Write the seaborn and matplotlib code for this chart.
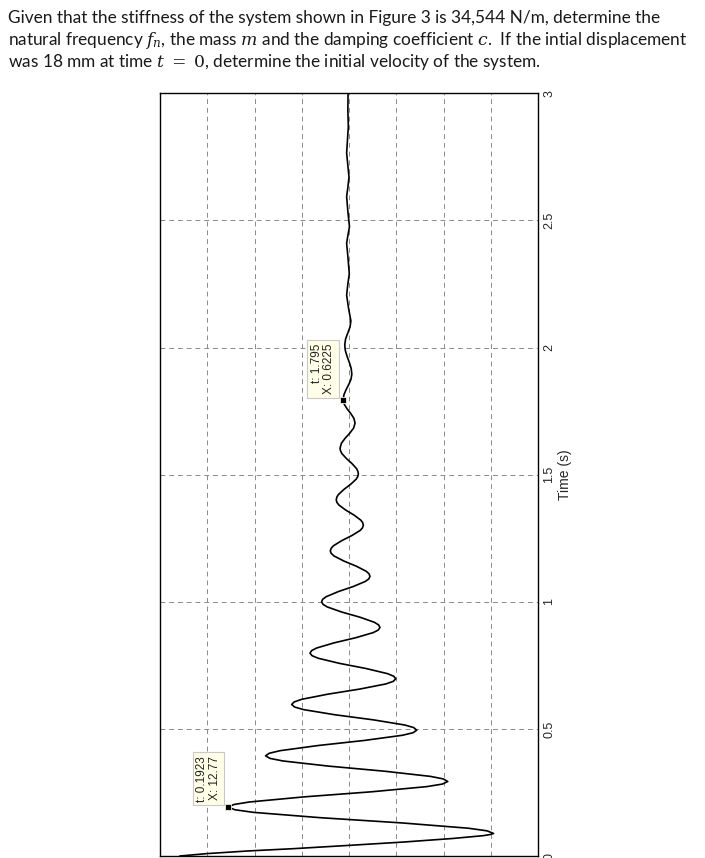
import matplotlib
matplotlib.use("Agg")
import matplotlib.pyplot as plt
import seaborn as sns
import pandas as pd

# ---- data (one row per half-cycle) ----
time_s = [0.000, 0.0095, 0.020, 0.029, 0.042, 0.055, 0.069, 0.080, 0.0845, 0.0886,
          0.0990, 0.1093, 0.1301, 0.1508, 0.1716, 0.1819, 0.1923,
          0.2024, 0.2124, 0.2326, 0.2527, 0.2729, 0.2829, 0.2930,
          0.3031, 0.3132, 0.3334, 0.3536, 0.3738, 0.3839, 0.3940,
          0.4041, 0.4142, 0.4344, 0.4546, 0.4748, 0.4849, 0.4950,
          0.5051, 0.5152, 0.5354, 0.5556, 0.5758, 0.5859, 0.5960,
          0.6061, 0.6162, 0.6364, 0.6566, 0.6768, 0.6869, 0.6970,
          0.7071, 0.7172, 0.7374, 0.7576, 0.7778, 0.7879, 0.7980,
          0.8081, 0.8182, 0.8384, 0.8586, 0.8788, 0.8889, 0.8990,
          0.9091, 0.9192, 0.9394, 0.9596, 0.9798, 0.9899, 1.0000,
          1.0100, 1.0200, 1.0400, 1.0600, 1.0800, 1.0900, 1.1000,
          1.1100, 1.1200, 1.1400, 1.1600, 1.1800, 1.1900, 1.2000,
          1.2101, 1.2202, 1.2404, 1.2606, 1.2808, 1.2909, 1.3010,
          1.3110, 1.3210, 1.3410, 1.3610, 1.3810, 1.3910, 1.4010,
          1.4112, 1.4214, 1.4418, 1.4622, 1.4826, 1.4928, 1.5030,
          1.5131, 1.5232, 1.5434, 1.5636, 1.5838, 1.5939, 1.6040,
          1.6238, 1.6436, 1.6634, 1.6832, 1.7030,
          1.7214, 1.7398, 1.7582, 1.7766, 1.7950,
          1.8150, 1.8350, 1.8550, 1.8750, 1.8950,
          1.9180, 1.9410, 1.9640, 1.9870, 2.0100,
          2.0340, 2.0580, 2.0810, 2.1050,
          2.1550, 2.2060, 2.2500, 2.2900, 2.3500, 2.4100, 2.4450, 2.4750,
          2.5350, 2.5940, 2.6300, 2.6700, 2.7200, 2.7650, 2.8200, 2.8700,
          2.9300, 3.0000]

displacement_mm = [17.9, 15.0, 10.6, 5.8, -0.1, -5.8, -11.0, -14.2, -14.95, -15.3,
                   -14.61, -12.62, -5.60, 3.07, 10.09, 12.08, 12.77,
                   12.20, 10.55, 4.75, -2.43, -8.23, -9.88, -10.45,
                   -9.98, -8.61, -3.79, 2.17, 6.99, 8.36, 8.83,
                   8.44, 7.30, 3.30, -1.64, -5.64, -6.78, -7.17,
                   -6.85, -5.91, -2.60, 1.50, 4.81, 5.75, 6.07,
                   5.80, 5.02, 2.26, -1.14, -3.90, -4.68, -4.95,
                   -4.73, -4.08, -1.81, 0.99, 3.26, 3.91, 4.13,
                   3.95, 3.42, 1.57, -0.72, -2.57, -3.10, -3.28,
                   -3.13, -2.69, -1.15, 0.77, 2.31, 2.75, 2.90,
                   2.78, 2.41, 1.13, -0.45, -1.73, -2.10, -2.22,
                   -2.12, -1.82, -0.77, 0.53, 1.58, 1.88, 1.98,
                   1.89, 1.65, 0.77, -0.31, -1.19, -1.43, -1.52,
                   -1.45, -1.25, -0.53, 0.36, 1.08, 1.28, 1.35,
                   1.29, 1.13, 0.54, -0.18, -0.77, -0.93, -0.99,
                   -0.94, -0.81, -0.32, 0.28, 0.77, 0.90, 0.95,
                   0.80, 0.40, -0.09, -0.49, -0.64,
                   -0.52, -0.20, 0.19, 0.50, 0.6225,
                   0.53, 0.30, 0.02, -0.21, -0.30,
                   -0.23, -0.04, 0.19, 0.38, 0.45,
                   0.36, 0.125, -0.11, -0.20,
                   0.05, 0.25, 0.12, -0.03, 0.10, 0.25, 0.10, -0.05,
                   0.12, 0.25, 0.12, 0.00, 0.13, 0.25, 0.15, 0.07,
                   0.12, 0.10]

tip_t = [0.1923, 1.795]
tip_x = [12.77, 0.6225]
tip_labels = ["t: 0.1923\nX: 12.77", "t: 1.795\nX: 0.6225"]

time_ticks = [0, 0.5, 1, 1.5, 2, 2.5, 3]
time_tick_labels = ["0", "0.5", "1", "1.5", "2", "2.5", "3"]
disp_grid = [-15, -10, -5, 0, 5, 10, 15]

question_lines = [
    "Given that the stiffness of the system shown in Figure 3 is 34,544 N/m, determine the",
    "natural frequency $f_n$, the mass $m$ and the damping coefficient $c$.  If the intial displacement",
    "was 18 mm at time $t\\;=\\;0$, determine the initial velocity of the system.",
]

# ---- drawing ----
sns.set_theme(style="white")
plt.rcParams["font.family"] = ["Liberation Sans", "DejaVu Sans"]
plt.rcParams["mathtext.fontset"] = "dejavuserif"

fig = plt.figure(figsize=(7.05, 8.58), dpi=100)
fig.patch.set_facecolor("white")

for i, line in enumerate(question_lines):
    fig.text(8 / 705, 1 - (23 + 22 * i) / 858, line, family="Lato",
             fontsize=12.4, color="#1a1a1a", va="baseline", ha="left")

ax = fig.add_axes([160 / 705, 1 - 856 / 858, (538 - 160) / 705, (856 - 93.3) / 858])
ax.set_facecolor("white")

df = pd.DataFrame({"t": time_s, "X": displacement_mm})
sns.lineplot(data=df, x="X", y="t", sort=False, estimator=None,
             color="black", linewidth=1.2, ax=ax)

ax.set_xlim(20, -20)
ax.set_ylim(0, 3)
ax.set_xticks(disp_grid)
ax.set_xticklabels([])
ax.set_yticks(time_ticks)
ax.set_yticklabels(time_tick_labels, rotation=90, va="center", fontsize=9)
ax.yaxis.tick_right()
ax.yaxis.set_label_position("right")
ax.set_ylabel("Time (s)", fontsize=10, rotation=90, labelpad=2)
ax.set_xlabel("")
ax.tick_params(axis="both", direction="in", length=0, pad=4)
ax.grid(True, color="#8a8a8a", linestyle=(0, (5, 4)), linewidth=0.7)
for s in ax.spines.values():
    s.set_color("black")
    s.set_linewidth(1.0)
    s.set_visible(True)

ax.plot(tip_x, tip_t, linestyle="none", marker="s", markersize=4,
        markerfacecolor="black", markeredgecolor="#f0f0d0", markeredgewidth=0.6,
        zorder=5)
for xv, tv, lab in zip(tip_x, tip_t, tip_labels):
    ax.annotate(lab, xy=(xv, tv), xytext=(-5.5, 4), textcoords="offset points",
                rotation=90, ha="right", va="bottom", fontsize=8.5,
                linespacing=1.05, color="#222222",
                bbox=dict(boxstyle="square,pad=0.3", fc="#FFFFE8", ec="#c8c8c8", lw=0.8),
                zorder=6)

fig.savefig("out.png", dpi=100, facecolor="white")
